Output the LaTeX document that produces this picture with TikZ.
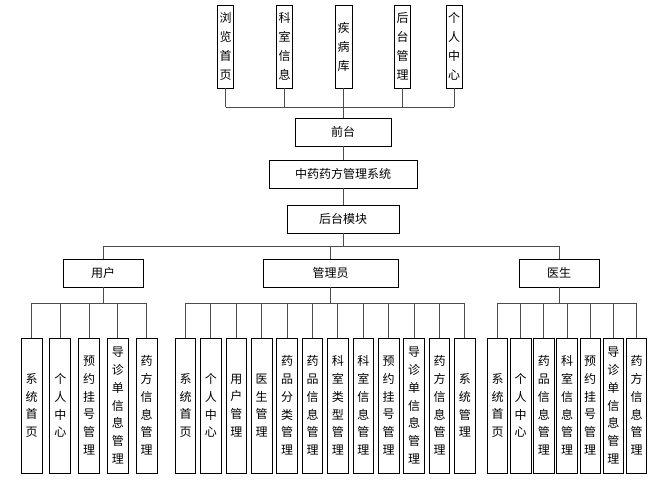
\documentclass[tikz,border=0pt]{standalone}
\usepackage{fontspec}
\newfontfamily\cjk{Noto Sans CJK SC}
\begin{document}
\begin{tikzpicture}[x=1pt,y=-1pt,
  box/.style={draw=black, line width=0.8pt, fill=white, inner sep=0pt, align=center,
    font=\cjk\fontsize{12}{17.8}\selectfont},
  hbox/.style={box, minimum height=28pt},
  tbox/.style={box, minimum width=16pt, minimum height=83pt, font=\cjk\fontsize{12}{19}\selectfont},
  vbox/.style={box, minimum width=21pt, minimum height=135pt},
  link/.style={draw=black!70, line width=0.9pt}]
\useasboundingbox (0,0) rectangle (661,496);

% top row
\node[tbox] (t1) at (225.5,46.5) {浏\\览\\首\\页};
\node[tbox] (t2) at (284.5,46.5) {科\\室\\信\\息};
\node[tbox, minimum width=17pt] (t3) at (343.5,46.5) {疾\\病\\库};
\node[tbox] (t4) at (402.5,46.5) {后\\台\\管\\理};
\node[tbox] (t5) at (454,46.5) {个\\人\\中\\心};

\node[hbox, minimum width=96pt] (qt) at (343,132) {前台};
\node[hbox, minimum width=148pt] (sys) at (343,174) {中药药方管理系统};
\node[hbox, minimum width=112pt] (ht) at (343,219) {后台模块};

\coordinate (bus1) at (0,107);
\foreach \n in {t1,t2,t3,t4,t5} \draw[link] (\n.south) -- (\n.south |- bus1);
\draw[link] (t1.south |- bus1) -- (t5.south |- bus1);
\draw[link] (qt.north |- bus1) -- (qt.north);
\draw[link] (qt.south) -- (sys.north);
\draw[link] (sys.south) -- (ht.north);

% second level
\node[hbox, minimum width=80pt] (yh) at (103,273) {用户};
\node[hbox, minimum width=135pt] (gly) at (330.5,273) {管理员};
\node[hbox, minimum width=80pt] (ys) at (559,273) {医生};

\coordinate (bus2) at (0,246);
\draw[link] (ht.south) -- (ht.south |- bus2);
\draw[link] (yh.north |- bus2) -- (ys.north |- bus2);
\foreach \n in {yh,gly,ys} \draw[link] (\n.north |- bus2) -- (\n.north);

\coordinate (bus3) at (0,303);

% user children
\foreach [count=\i] \t in {系\\统\\首\\页, 个\\人\\中\\心, 预\\约\\挂\\号\\管\\理, 导\\诊\\单\\信\\息\\管\\理, 药\\方\\信\\息\\管\\理} {
  \node[vbox] (u\i) at ({31.5+28.75*(\i-1)},405.5) {\t};
}
\draw[link] (yh.south) -- (yh.south |- bus3);
\draw[link] (u1.north |- bus3) -- (u5.north |- bus3);
\foreach \i in {1,...,5} \draw[link] (u\i.north |- bus3) -- (u\i.north);

% admin children
\foreach [count=\i] \t in {系\\统\\首\\页, 个\\人\\中\\心, 用\\户\\管\\理, 医\\生\\管\\理, 药\\品\\分\\类\\管\\理, 药\\品\\信\\息\\管\\理, 科\\室\\类\\型\\管\\理, 科\\室\\信\\息\\管\\理, 预\\约\\挂\\号\\管\\理, 导\\诊\\单\\信\\息\\管\\理, 药\\方\\信\\息\\管\\理, 系\\统\\管\\理} {
  \node[vbox, minimum width=20.5pt] (a\i) at ({185.5+25.4*(\i-1)},405.5) {\t};
}
\draw[link] (gly.south) -- (gly.south |- bus3);
\draw[link] (a1.north |- bus3) -- (a12.north |- bus3);
\foreach \i in {1,...,12} \draw[link] (a\i.north |- bus3) -- (a\i.north);

% doctor children
\foreach [count=\i] \t in {系\\统\\首\\页, 个\\人\\中\\心, 药\\品\\信\\息\\管\\理, 科\\室\\信\\息\\管\\理, 预\\约\\挂\\号\\管\\理, 导\\诊\\单\\信\\息\\管\\理, 药\\方\\信\\息\\管\\理} {
  \node[vbox, minimum width=20.5pt] (d\i) at ({497.5+23.17*(\i-1)},405.5) {\t};
}
\draw[link] (ys.south) -- (ys.south |- bus3);
\draw[link] (d1.north |- bus3) -- (d7.north |- bus3);
\foreach \i in {1,...,7} \draw[link] (d\i.north |- bus3) -- (d\i.north);
\end{tikzpicture}
\end{document}
